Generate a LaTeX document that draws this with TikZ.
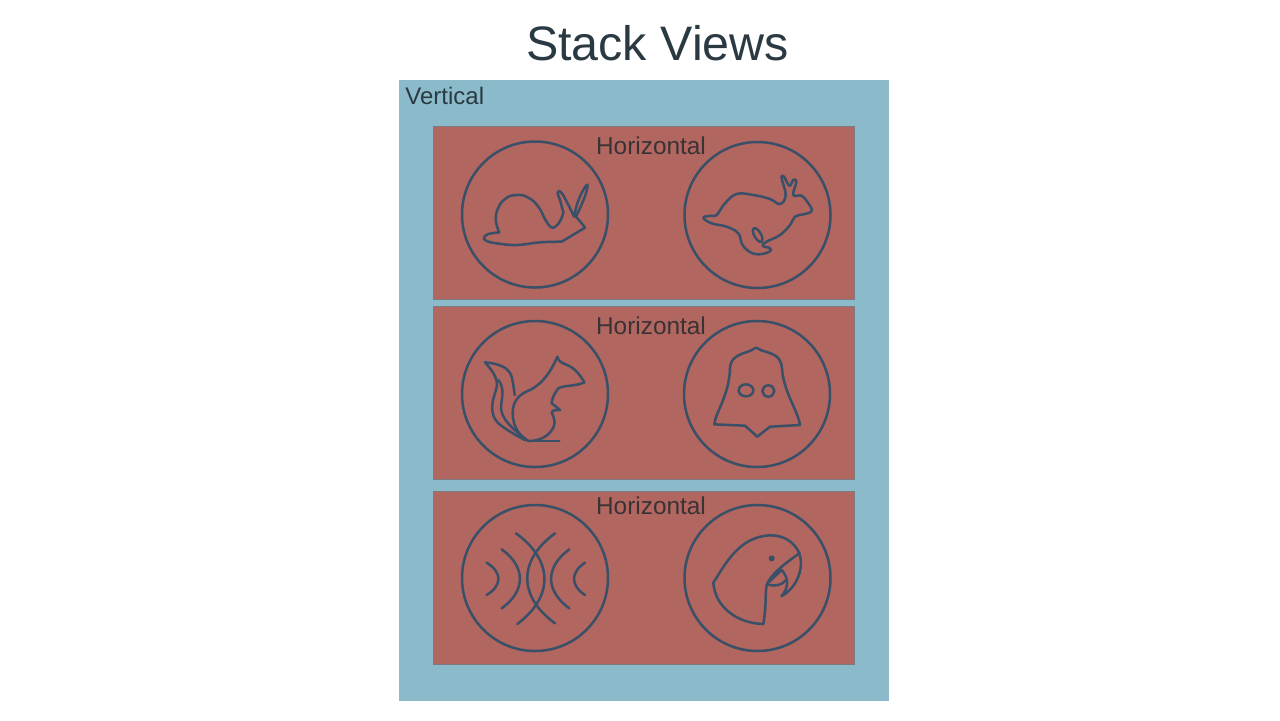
\documentclass[tikz,border=0pt]{standalone}
\usepackage{fontspec}
\setmainfont{Liberation Sans}
\definecolor{outerblue}{HTML}{8BBBCB}
\definecolor{innerred}{HTML}{B1665F}
\definecolor{redge}{HTML}{7F7A80}
\definecolor{ink}{HTML}{3A4F68}
\definecolor{titleink}{HTML}{2B3A42}
\definecolor{labelink}{HTML}{3B3236}
\tikzset{
  outerbox/.style={draw=none,fill=outerblue,rectangle,inner sep=0pt,minimum width=245pt,minimum height=310.5pt},
  rowbox/.style={draw=redge,line width=0.6pt,fill=innerred,rectangle,inner sep=0pt,minimum width=210.5pt,minimum height=86.5pt},
  ring/.style={draw=ink,line width=1.25pt,circle,inner sep=0pt,minimum size=73pt},
  glyph/.style={draw=ink,line width=1.25pt,line join=round,line cap=round},
  rowlabel/.style={text=labelink,font=\fontsize{12.2pt}{14pt}\selectfont,inner sep=0pt},
}
\begin{document}
\begin{tikzpicture}[x=0.5pt,y=-0.5pt]
\useasboundingbox[fill=white] (0,0) rectangle (1280,720);
\node[text=titleink,font=\fontsize{24.2pt}{28pt}\selectfont,inner sep=0pt] (title) at (657.5,43) {Stack Views};
\node[outerbox] (outer) at (644,390.5) {};
\node[text=titleink,font=\fontsize{12pt}{14pt}\selectfont,inner sep=0pt,anchor=west] (vlabel) at (405,96) {Vertical};
\node[rowbox] (row1) at (643.75,213) {};
\node[rowbox] (row2) at (643.75,393) {};
\node[rowbox] (row3) at (643.75,578) {};
\node[rowlabel] (h1) at (651,145.5) {Horizontal};
\node[rowlabel] (h2) at (651,325.5) {Horizontal};
\node[rowlabel] (h3) at (651,506) {Horizontal};
\node[ring] (snail) at (535,214.5) {};
\node[ring] (rabbit) at (757.5,215) {};
\node[ring] (squirrel) at (535,394) {};
\node[ring] (ghost) at (757,394) {};
\node[ring] (sound) at (535,578) {};
\node[ring] (parrot) at (757.5,578) {};
% snail
\begin{scope}[shift={(440,125)},x=0.16667pt,y=-0.16667pt]
\draw[glyph] plot[smooth,tension=0.8] coordinates {(178,322)(168,290)(172,255)(195,222)(230,210)(265,218)(295,245)(315,282)(332,306)(347,304)(362,285)(370,262)}
 -- plot[smooth,tension=0.5] coordinates {(370,262)(360,225)(353,205)(358,198)(368,208)(388,245)(402,275)}
 -- plot[smooth,tension=0.6] coordinates {(402,275)(412,235)(428,198)(442,179)(438,205)(422,245)(408,275)}
 -- plot[smooth,tension=0.5] coordinates {(408,275)(425,295)(435,308)}
 -- (365,350)
 -- plot[smooth,tension=0.7] coordinates {(365,350)(300,352)(230,360)(170,355)(140,348)(132,338)(145,327)(178,322)};
\end{scope}
% rabbit
\begin{scope}[shift={(670,125)},x=0.16667pt,y=-0.16667pt]
\draw[glyph] plot[smooth cycle,tension=0.7] coordinates {(100,278)(125,272)(140,270)(165,235)(200,207)(250,210)(300,222)(330,237)(347,210)(335,160)(342,155)(358,182)(370,165)(379,170)(370,210)(395,212)(415,235)(425,258)(400,268)(375,275)(360,300)(330,330)(290,350)(278,362)(300,370)(298,380)(265,388)(235,378)(215,355)(205,325)(170,305)(125,295)};
\draw[glyph,rotate around={30:(263,330)}] (263,330) ellipse[x radius=10,y radius=23];
\end{scope}
% squirrel
\begin{scope}[shift={(440,305)},x=0.16667pt,y=-0.16667pt]
\draw[glyph] (135,172) .. controls (175,176) and (205,185) .. (215,215) .. controls (220,235) and (222,255) .. (224,270);
\draw[glyph] (135,172) .. controls (160,200) and (178,225) .. (168,255) .. controls (158,285) and (145,325) .. (175,355) .. controls (200,375) and (230,392) .. (255,405);
\draw[glyph] (175,225) .. controls (195,250) and (185,280) .. (183,305) .. controls (182,340) and (215,370) .. (262,406);
\draw[glyph] (352,155) .. controls (335,195) and (310,235) .. (270,255) .. controls (235,268) and (218,290) .. (218,325) .. controls (218,365) and (240,395) .. (265,408);
\draw[glyph] (352,155) .. controls (356,178) and (385,175) .. (405,195) .. controls (418,208) and (428,222) .. (433,232);
\draw[glyph] (433,232) .. controls (405,245) and (370,240) .. (355,250) .. controls (342,265) and (335,285) .. (335,295) .. controls (345,300) and (352,310) .. (360,315);
\draw[glyph] (360,315) .. controls (350,318) and (338,312) .. (335,322) .. controls (345,345) and (350,360) .. (330,382) .. controls (315,400) and (290,408) .. (265,408);
\draw[glyph] (265,408) -- (358,408);
\end{scope}
% ghost
\begin{scope}[shift={(670,305)},x=0.16667pt,y=-0.16667pt]
\draw[glyph] (133,358) .. controls (135,325) and (178,270) .. (180,190) .. controls (182,160) and (200,150) .. (240,138) .. controls (250,135) and (252,128) .. (258,128) .. controls (264,128) and (268,135) .. (280,138) .. controls (315,148) and (332,155) .. (336,190) .. controls (340,260) and (385,320) .. (390,360)
 -- (300,365) -- (262,395) -- (225,362) -- cycle;
\draw[glyph] (228,256) ellipse[x radius=22,y radius=18];
\draw[glyph] (295,258) ellipse[x radius=18,y radius=17];
\end{scope}
% sound waves
\begin{scope}[shift={(440,490)},x=0.16667pt,y=-0.16667pt]
\draw[glyph] (140,218) .. controls (187,247) and (187,286) .. (140,315);
\draw[glyph] (185,178) .. controls (258,231) and (258,302) .. (185,355);
\draw[glyph] (228,130) .. controls (341,212) and (341,320) .. (232,402);
\draw[glyph] (345,130) .. controls (234,211) and (234,319) .. (345,400);
\draw[glyph] (388,178) .. controls (315,231) and (315,302) .. (388,355);
\draw[glyph] (435,218) .. controls (391,247) and (391,286) .. (435,315);
\end{scope}
% parrot
\begin{scope}[shift={(670,490)},x=0.16667pt,y=-0.16667pt]
\draw[glyph] (280,402) .. controls (200,400) and (135,350) .. (130,278) .. controls (165,225) and (205,140) .. (300,136) .. controls (345,135) and (375,160) .. (388,190);
\draw[glyph] (388,190) .. controls (345,220) and (300,255) .. (290,285) .. controls (285,310) and (290,340) .. (280,402);
\draw[glyph] (388,190) .. controls (402,230) and (385,290) .. (335,318);
\draw[glyph] (335,318) .. controls (355,295) and (358,265) .. (335,240);
\draw[glyph] (298,275) .. controls (310,262) and (325,250) .. (335,240);
\draw[glyph] (295,284) .. controls (315,290) and (335,285) .. (346,272);
\fill[ink] (305,205) circle[radius=9];
\end{scope}
\end{tikzpicture}
\end{document}
